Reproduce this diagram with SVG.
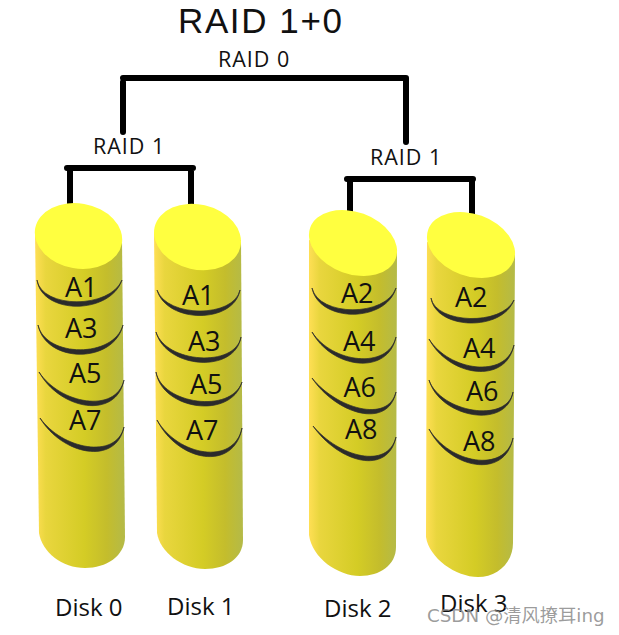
<svg xmlns="http://www.w3.org/2000/svg" width="619" height="635" viewBox="0 0 619 635">
<style>
text{font-family:"Open Sans","Noto Sans","Liberation Sans",sans-serif;fill:#111}
.t{font-family:"Liberation Sans",Arial,sans-serif;font-size:35px;letter-spacing:1.6px}
.l{font-size:21.5px;letter-spacing:1px}.a{font-size:27px}.d{font-size:24px}
.w{font-family:"DejaVu Sans","Noto Sans CJK SC",sans-serif;font-size:18.300px;fill:#8a8a8a;fill-opacity:.85}
.b{fill:url(#g)}.e{fill:#ffff40}
.r{fill:#2b2b2b;stroke:#2b2b2b;stroke-width:.7;stroke-linejoin:round}
.c{fill:none;stroke:#000;stroke-width:6;stroke-linecap:round}
</style>
<defs><linearGradient id="g" x1="0" x2="1" y1="0" y2="0">
<stop offset="0" stop-color="#ffdf55"/><stop offset=".12" stop-color="#e9d63e"/><stop offset=".55" stop-color="#d4cc25"/><stop offset=".8" stop-color="#c4bd2c"/><stop offset="1" stop-color="#b4ba48"/>
</linearGradient></defs>
<rect width="619" height="635" fill="#fff"/>
<g id="connectors">
<path class="c" d="M123,78H406M123,82V132M406,78V142M67,168H193M70,168V206M191,168V208M347,179H473M350,179V214M472,179V216"/>
</g>
<g id="disk0">
<path class="b" d="M35,232L39,533C42,552 62,568 85,568C106,568 125,556 125,537L122,240Z"/>
<ellipse class="e" cx="78.500" cy="236" rx="44" ry="32.500" transform="rotate(10 78.500 236)"/>
<path class="r" d="M37,280C42,315 110,315 122,280C110,309 42,309 37,280ZM38,325C46,364 114,364 123,325C114,358 46,358 38,325ZM39,372C60,410 116,420 124,380C116,414 60,404 39,372ZM40,418C62,455 116,466 124,427C116,460 62,449 40,418Z"/>
<text class="a" x="65" y="297">A1</text><text class="a" x="65" y="338">A3</text><text class="a" x="69" y="383">A5</text><text class="a" x="69" y="430">A7</text>
</g>
<g id="disk1">
<path class="b" d="M154,232L157,533C160,552 182,569 205,569C226,569 243,558 243,540L241,240Z"/>
<ellipse class="e" cx="197.500" cy="237" rx="44" ry="32.500" transform="rotate(13 197.500 237)"/>
<path class="r" d="M157,290C167,324 234,324 240,290C234,318 167,318 157,290ZM156,332C166,369 235,374 241,337C235,368 166,363 156,332ZM156,372C162,410 231,420 242,382C231,414 162,404 156,372ZM157,420C178,462 234,472 242,428C234,466 178,456 157,420Z"/>
<text class="a" x="182" y="305">A1</text><text class="a" x="188" y="351">A3</text><text class="a" x="190" y="394">A5</text><text class="a" x="186" y="440">A7</text>
</g>
<g id="disk2">
<path class="b" d="M309,240L309,535C312,558 338,576 360,576C380,576 396,565 396,547L397,250Z"/>
<ellipse class="e" cx="353" cy="243" rx="45.500" ry="31" transform="rotate(20 353 243)"/>
<path class="r" d="M312,288C319,323 386,323 396,288C386,317 319,317 312,288ZM312,332C332,369 388,376 396,337C388,370 332,363 312,332ZM312,378C336,414 388,430 396,392C388,424 336,408 312,378ZM313,426C339,463 388,476 396,437C388,470 339,457 313,426Z"/>
<text class="a" x="341" y="303">A2</text><text class="a" x="343" y="351">A4</text><text class="a" x="343.500" y="397">A6</text><text class="a" x="345" y="439">A8</text>
</g>
<g id="disk3">
<path class="b" d="M427,242L426,537C429,558 456,577 478,577C497,577 513,563 513,543L515,255Z"/>
<ellipse class="e" cx="471" cy="245" rx="45.500" ry="31" transform="rotate(20 471 245)"/>
<path class="r" d="M431,298C436,330 502,332 514,300C502,326 436,324 431,298ZM429,339C449,377 506,385 514,345C506,379 449,371 429,339ZM429,380C440,418 507,430 513,392C507,424 440,412 429,380ZM429,429C449,469 505,480 513,438C505,474 449,463 429,429Z"/>
<text class="a" x="455" y="307">A2</text><text class="a" x="463" y="358">A4</text><text class="a" x="466" y="401">A6</text><text class="a" x="463" y="451">A8</text>
</g>
<g id="labels">
<text class="t" x="178" y="33">RAID 1+0</text>
<text class="l" x="218" y="67">RAID 0</text>
<text class="l" x="93" y="154">RAID 1</text>
<text class="l" x="370" y="165">RAID 1</text>
<text class="d" x="55" y="616">Disk 0</text>
<text class="d" x="167" y="615">Disk 1</text>
<text class="d" x="324" y="617">Disk 2</text>
<text class="d" x="440" y="612">Disk 3</text>
<text class="w" x="427" y="622">CSDN @清风撩耳ing</text>
</g>
</svg>
